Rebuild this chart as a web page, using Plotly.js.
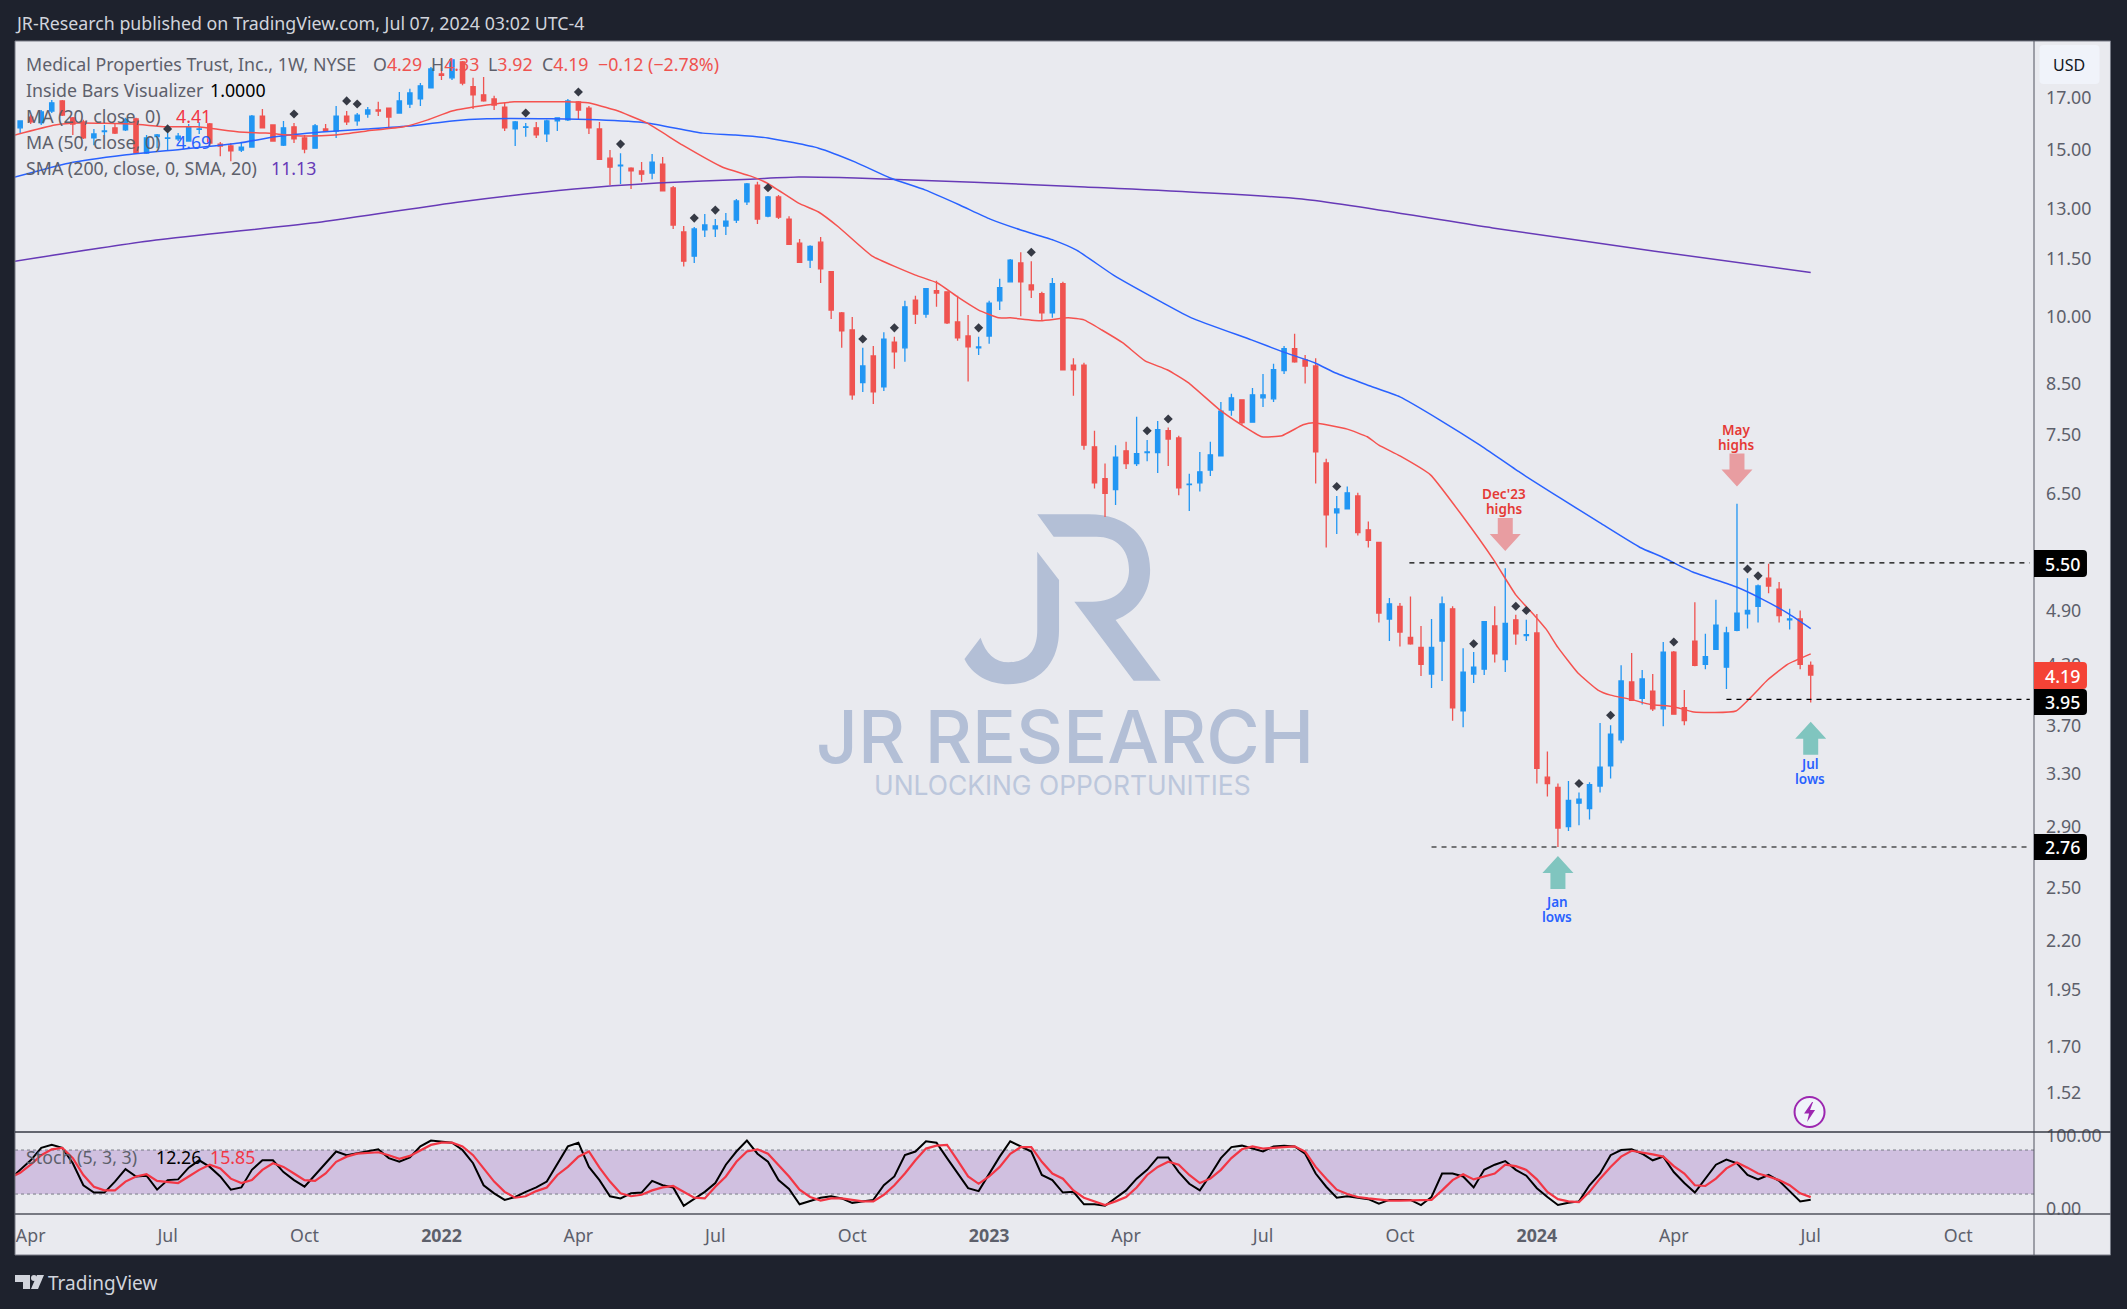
<!DOCTYPE html>
<html>
<head>
<meta charset="utf-8">
<script src="https://cdn.plot.ly/plotly-3.0.1.min.js"></script>
<style>
  html, body { margin: 0; padding: 0; background: #1e222d; }
</style>
</head>
<body>
<div id="chart"></div>
<script>
// weekly bars, first bar is the week of Mar 29 2021, last one Jul 1 2024
const opens = [
  15.81,16.23,16.00,16.47,16.88,16.20,16.04,15.43,15.67,15.81,
  15.73,16.16,14.87,15.48,15.41,15.39,15.31,15.75,15.96,15.20,
  15.13,14.98,15.09,16.27,15.92,15.16,15.85,15.43,15.05,15.77,
  15.69,16.27,16.08,16.35,16.51,16.59,16.39,16.75,16.96,17.42,
  18.02,17.85,18.56,17.47,17.13,16.96,16.63,15.77,15.83,15.81,
  15.58,16.08,16.12,16.84,16.59,15.77,14.69,14.42,14.34,14.24,
  14.17,14.48,13.67,12.28,11.58,12.34,12.37,12.46,12.64,13.21,
  13.76,12.76,13.37,12.67,11.95,11.47,11.98,11.15,10.09,9.68,
  8.52,9.09,8.43,9.40,9.27,10.41,10.06,10.65,10.62,9.87,
  9.54,9.27,9.54,10.39,10.88,11.39,10.80,10.57,10.09,10.83,
  8.89,8.89,7.29,6.75,6.57,7.22,7.00,7.19,7.19,7.58,
  7.45,6.65,6.68,6.89,7.13,7.97,8.17,7.74,8.21,8.19,
  8.77,9.25,9.00,8.87,7.01,6.21,6.27,6.47,5.96,5.78,
  4.80,4.95,4.59,4.48,4.20,4.55,4.92,3.84,4.20,4.25,
  4.72,4.35,4.79,4.61,4.64,3.27,3.19,2.90,3.07,3.03,
  3.20,3.36,3.58,4.12,3.96,4.03,3.86,4.43,3.87,4.55,
  4.30,4.46,4.27,4.67,4.86,4.95,5.30,5.16,4.79,4.80,4.29
];
const highs = [
  16.08,16.31,16.51,16.92,16.92,16.23,16.12,15.77,15.92,16.00,
  16.20,16.20,15.54,15.58,15.61,15.61,15.96,16.04,16.00,15.28,
  15.24,15.24,16.31,16.55,15.92,16.08,16.00,15.54,15.96,15.96,
  16.67,16.47,16.39,16.63,16.84,16.59,17.25,17.38,17.63,18.33,
  18.29,18.70,18.60,17.85,17.89,17.09,16.80,16.08,16.00,16.04,
  16.12,16.20,16.96,16.88,16.67,16.04,14.98,14.87,14.37,14.55,
  14.84,14.73,13.73,12.46,12.43,12.83,12.67,12.86,13.30,13.83,
  13.87,13.40,13.43,12.76,12.07,11.89,12.13,11.15,10.11,9.99,
  9.27,9.31,9.63,9.52,10.39,10.52,10.70,10.91,10.62,10.52,
  10.04,9.52,10.39,10.96,11.50,11.69,11.44,10.62,10.98,10.88,
  9.04,8.94,7.58,7.00,7.32,7.38,7.84,7.41,7.76,7.64,
  7.49,6.83,7.20,7.38,8.13,8.29,8.17,8.41,8.70,8.92,
  9.31,9.59,9.11,9.04,7.08,6.47,6.62,6.52,6.08,5.78,
  5.05,4.99,5.07,4.72,4.80,5.07,4.95,4.47,4.43,4.77,
  4.95,5.43,4.85,4.79,4.86,3.48,3.22,3.24,3.15,3.23,
  3.73,3.71,4.29,4.42,4.24,4.20,4.54,4.44,4.04,5.00,
  4.63,5.03,4.71,6.35,5.30,5.22,5.49,5.25,4.92,4.90,4.33
];
const lows = [
  15.61,15.96,15.92,16.39,16.27,15.54,15.39,15.16,15.54,15.58,
  15.69,14.84,14.84,15.05,14.98,15.31,15.29,15.58,15.09,14.76,
  14.58,14.91,15.07,15.79,15.29,15.13,15.24,14.87,15.04,15.65,
  15.43,15.92,15.89,16.20,16.27,15.81,16.37,16.59,16.67,17.40,
  17.76,17.76,17.53,16.55,16.84,16.51,15.69,15.13,15.47,15.43,
  15.28,15.69,16.08,16.12,15.58,14.64,13.76,13.80,13.63,13.87,
  13.96,13.55,12.37,11.29,11.39,12.13,12.13,12.19,12.55,13.11,
  12.52,12.73,12.67,11.91,11.40,11.25,10.85,9.94,9.27,8.17,
  8.33,8.09,8.35,8.81,8.96,9.82,9.97,10.24,9.82,9.43,
  8.54,9.11,9.36,10.16,10.86,10.01,10.46,9.90,9.97,8.78,
  8.25,7.24,6.59,6.15,6.33,6.91,6.96,7.04,6.84,6.96,
  6.48,6.24,6.54,6.79,7.12,7.86,7.69,7.73,8.03,8.13,
  8.70,8.94,8.50,6.67,5.71,5.90,6.26,5.88,5.71,4.76,
  4.55,4.49,4.51,4.18,4.06,4.13,3.75,3.69,4.11,4.19,
  4.32,4.22,4.51,4.55,3.22,3.12,2.76,2.87,2.91,2.95,
  3.15,3.26,3.55,3.94,3.90,3.84,3.70,3.81,3.71,4.28,
  4.25,4.46,4.05,4.66,4.69,4.76,5.11,4.76,4.68,4.25,3.92
];
const closes = [
  16.08,16.04,16.43,16.80,16.31,15.96,15.43,15.58,15.69,15.61,
  16.14,14.87,15.43,15.54,15.43,15.50,15.83,15.77,15.24,15.13,
  14.95,15.09,16.27,15.81,15.31,15.81,15.39,15.02,15.89,15.69,
  16.27,16.04,16.31,16.51,16.47,16.23,16.88,17.21,17.51,18.24,
  17.96,18.65,17.63,17.13,16.88,16.71,15.81,16.04,15.85,15.54,
  16.08,16.20,16.88,16.51,15.81,14.65,14.37,14.44,14.24,14.13,
  14.55,13.57,12.49,11.44,12.37,12.49,12.46,12.61,13.24,13.80,
  12.67,13.37,12.73,11.92,11.41,11.86,11.23,10.16,9.66,8.27,
  8.87,8.33,9.47,9.18,10.24,10.06,10.70,10.59,9.85,9.50,
  9.29,9.29,10.33,10.73,11.47,10.88,10.67,10.09,10.83,8.79,
  8.79,7.32,6.68,6.51,7.11,7.00,7.17,7.20,7.60,7.43,
  6.60,6.66,6.86,7.15,7.95,8.21,7.73,8.27,8.27,8.79,
  9.25,8.96,8.87,7.20,6.18,6.27,6.52,5.92,5.81,4.87,
  4.98,4.65,4.52,4.30,4.48,4.98,3.87,4.22,4.27,4.77,
  4.41,4.75,4.63,4.62,3.34,3.22,2.89,3.09,3.10,3.21,
  3.35,3.63,4.13,3.94,4.15,3.86,4.43,3.81,3.75,4.29,
  4.38,4.73,4.64,4.87,4.90,5.20,5.20,4.84,4.80,4.30,4.19
];

// moving averages, read at a number of weeks along each line
const ma20Weeks = [-0.5,3.3,5.5,10.7,13.8,16.8,20.8,23.3,26.9,29.9,32.9,36.4,38.7,41,44.3,46.9,51.7,53.9,56.5,59.5,62.9,66.7,69.3,70.9,73.9,75.8,77.7,80.9,85,87.1,89,91,92.9,94,96.9,99.5,101,102.7,104.7,106.8,108.9,110.9,113.8,115.8,117.9,119.8,121.8,122.8,126,127.9,129,131,133.9,136.9,139.9,142,144,144.9,146,147.9,149.8,151,152.9,154.8,157,158.9,162.9,165.9,167.8,170];
const ma20 = [15.54,15.92,16.00,15.96,15.85,15.85,15.65,15.61,15.50,15.54,15.69,15.85,16.12,16.47,16.71,16.84,16.84,16.80,16.51,16.00,15.16,14.37,14.07,13.83,13.17,12.89,12.43,11.58,11.06,10.85,10.49,10.16,9.97,9.97,9.90,9.97,9.92,9.68,9.38,8.98,8.79,8.52,7.99,7.71,7.47,7.49,7.69,7.73,7.61,7.47,7.32,7.13,6.81,6.17,5.54,5.09,4.81,4.68,4.48,4.21,4.04,3.99,3.95,3.90,3.88,3.83,3.84,4.14,4.30,4.41];
const ma50Weeks = [-0.5,4.6,9.9,15.6,20.8,24.2,28.6,32.9,37.3,41,44.3,50.4,54.8,59.5,64.8,67.9,71,75.8,79.3,82.6,85.9,89.2,92.1,95,98.1,100.3,103.8,108.5,111.2,116.9,119.9,122.9,124.9,127.9,131,134.8,138.6,142.4,146.2,150,153.8,155.9,158.8,162.9,165.2,167.8,170];
const ma50 = [14.03,14.51,14.80,15.02,15.24,15.47,15.65,15.77,15.89,16.08,16.16,16.16,16.12,16.00,15.61,15.54,15.43,15.05,14.55,14.00,13.60,13.11,12.67,12.34,12.04,11.75,11.06,10.34,9.97,9.45,9.18,8.94,8.72,8.47,8.23,7.78,7.32,6.85,6.44,6.06,5.71,5.58,5.38,5.19,5.05,4.87,4.69];
const sma200Weeks = [-0.5,12.9,28.6,41.7,52.6,60.5,69.3,73.9,79.3,101.1,121.7,139.8,155.2,170];
const sma200 = [11.44,12.04,12.58,13.21,13.63,13.83,13.96,14.03,14.00,13.70,13.30,12.40,11.72,11.13];

// inside bar markers
const insideWeeks = [14,26,31,32,48,53,57,64,66,71,80,83,91,96,107,109,125,138,142,143,148,151,157,164,165];
const insidePrices = [15.77,16.35,16.88,16.75,16.39,17.25,15.20,12.70,12.95,13.67,9.47,9.73,9.73,11.69,7.58,7.80,6.62,4.52,4.95,4.90,3.22,3.80,4.54,5.42,5.33];

// stochastic, weekly from one bar before the first visible bar
const stochK = [40,
  53,66,83,87,83,62,32,22,22,37,
  54,44,45,26,39,40,56,66,57,44,
  26,29,53,66,66,50,39,30,46,62,
  78,73,76,78,81,69,64,70,85,93,
  91,90,80,62,32,21,12,16,23,29,
  37,62,85,90,57,39,17,14,21,22,
  38,32,29,4,14,23,35,60,78,93,
  75,64,39,27,6,10,15,17,14,8,
  10,12,32,44,73,78,92,90,69,48,
  28,24,48,71,92,85,78,46,39,22,
  23,6,6,4,14,25,41,53,70,70,
  50,34,25,46,69,84,86,82,78,85,
  86,85,75,48,30,15,17,15,13,7,
  12,12,12,5,16,48,48,44,29,53,
  60,65,53,45,28,16,5,8,10,32,
  48,73,80,81,75,66,71,50,35,22,
  41,60,67,62,46,40,46,38,24,10,12.26];
const stochD = [42,
  49,60,73,81,83,69,46,30,25,25,
  37,44,47,38,36,35,44,53,60,55,
  41,35,39,53,62,57,48,39,38,48,
  64,71,75,76,77,73,68,72,79,87,
  90,90,85,73,55,37,23,15,17,24,
  29,46,57,71,78,56,37,21,17,19,
  25,29,31,23,15,14,30,44,64,78,
  81,75,60,44,26,16,11,14,14,12,
  10,10,19,32,48,66,82,86,87,66,
  44,34,44,57,75,84,84,64,48,41,
  25,15,10,5,10,16,29,46,57,64,
  60,46,35,41,53,69,81,85,82,83,
  84,85,78,57,41,26,20,16,14,12,
  11,11,11,11,12,25,39,47,40,44,
  48,60,58,53,40,23,13,10,9,23,
  41,57,71,79,77,74,71,58,48,32,
  31,41,55,63,56,48,44,39,32,21,15.85];

const dashedPrices = [5.50, 3.95, 2.76];
const dashedStart = [131.9, 162, 134];

const priceTicks = [17,15,13,11.5,10,8.5,7.5,6.5,4.9,4.3,3.7,3.3,2.9,2.5,2.2,1.95,1.7,1.52];
const timeTickWeeks = [1,14,27,40,53,66,79,92,105,118,131,144,157,170,184];
const timeTickLabels = ["Apr","Jul","Oct","<b>2022</b>","Apr","Jul","Oct","<b>2023</b>","Apr","Jul","Oct","<b>2024</b>","Apr","Jul","Oct"];

const W = 2127, H = 1309;
const left = 15, right = 2034.5, top_ = 41, paneLine = 1132, bottom = 1214, panelBottom = 1255, panelRight = 2111;
const FONT = '"Noto Sans", sans-serif';
const LOGO_FONT = '"Inter", sans-serif';
const TXT = "#5d606b";
const BG = "#e9eaef";
const TEXT_SIZE = 17.8;

// page pixels to paper fractions, used for everything that is not data
const xp = (x) => (x - left) / (right - left);
const yp = (y) => (bottom - y) / (bottom - top_);
const toPaper = (s) => s.replace(/(-?[\d.]+) (-?[\d.]+)/g, (m, x, y) => xp(+x) + " " + yp(+y));

const shapes = [];
const annotations = [];

const text = (x, y, str, opts = {}) => {
  const anchor = opts.anchor || "left";
  annotations.push({
    xref: "paper", yref: "paper", x: xp(anchor === "left" ? x - 2.5 : x), y: yp(y),
    xanchor: anchor, yanchor: "middle",
    text: str, showarrow: false, align: opts.align || "left",
    font: { family: opts.family || FONT, size: opts.size || TEXT_SIZE, color: opts.color || TXT, weight: opts.weight || 400 },
  });
};
const line = (x0, y0, x1, y1, color, width = 1) => {
  shapes.push({
    type: "line", xref: "paper", yref: "paper", layer: "above",
    x0: xp(x0), y0: yp(y0), x1: xp(x1), y1: yp(y1), line: { color: color, width: width },
  });
};
const pathShape = (d, fill, layer = "above") => {
  shapes.push({ type: "path", xref: "paper", yref: "paper", layer: layer, path: toPaper(d), fillcolor: fill, line: { width: 0 } });
};

// panel
shapes.push({
  type: "rect", xref: "paper", yref: "paper", layer: "below",
  x0: xp(left), x1: xp(panelRight), y0: yp(top_), y1: yp(panelBottom), fillcolor: BG, line: { width: 0 },
});
line(left, top_, panelRight, top_, "#787b86");
line(left, top_, left, panelBottom, "#787b86");
line(panelRight, top_, panelRight, panelBottom, "#787b86");
line(left, panelBottom, panelRight, panelBottom, "#787b86");
line(right, top_, right, panelBottom, "#50535e");
line(left, paneLine, panelRight, paneLine, "#363a45", 1.5);
line(left, bottom, panelRight, bottom, "#50535e", 1.5);

// stochastic band
shapes.push({ type: "rect", xref: "paper", yref: "y2", layer: "below", x0: 0, x1: 1, y0: 20, y1: 80, fillcolor: "#d0c0e0", line: { width: 0 } });
[20, 80].forEach((v) => {
  shapes.push({ type: "line", xref: "paper", yref: "y2", layer: "below", x0: 0, x1: 1, y0: v, y1: v, line: { color: "#787b86", width: 1, dash: "3px,3px" } });
});

// watermark
const WM = "#b3bfd6";
pathShape("M 1037.5 514.3 L 1089.1 514.3 C 1127.4 514.3 1150.4 536.7 1150.4 570 C 1150.4 593.3 1137 611.7 1115.9 620 L 1161 680.7 L 1133.9 680.7 L 1074.6 601.7 L 1093 601.7 C 1115.9 601.7 1129.3 588.3 1129.3 570 C 1129.3 548.3 1115.9 536.7 1096.8 536.7 L 1053.9 536.7 Z", WM, "below");
pathShape("M 1037.5 551.7 L 1059.3 580 L 1059.3 630 C 1059.3 663.3 1039.4 684.3 1008.8 684.3 C 989.6 684.3 972.4 675 964.7 659 L 980.8 637.7 C 985.8 653.3 995.4 662.3 1008.8 662.3 C 1027.9 662.3 1037.5 650 1037.5 630 Z", WM, "below");
text(1065, 736, "JR RESEARCH", { anchor: "center", size: 73, color: WM, family: LOGO_FONT, weight: 500 });
text(1063, 785, "UNLOCKING OPPORTUNITIES", { anchor: "center", size: 26.4, color: "#bcc7dc", family: LOGO_FONT, weight: 400 });

// arrows, tip sits on the anchor
const arrow = (week, price, dir, color) => {
  const s = dir; // 1 = points up, -1 = points down
  shapes.push({
    type: "path", layer: "above", xref: "x", yref: "y", xsizemode: "pixel", ysizemode: "pixel",
    xanchor: week, yanchor: price,
    path: `M0,0 L15.5,${-17 * s} L7.5,${-17 * s} L7.5,${-33 * s} L-7.5,${-33 * s} L-7.5,${-17 * s} L-15.5,${-17 * s} Z`,
    fillcolor: color, line: { width: 0 },
  });
};
arrow(163, 6.62, -1, "#e89da1");
arrow(141, 5.66, -1, "#e89da1");
arrow(146, 2.70, 1, "#80c5bf");
arrow(170, 3.74, 1, "#80c5bf");
const RED_NOTE = "#e53935", BLUE_NOTE = "#2962ff";
const note = (x, y, str, color) => text(x, y, str, { anchor: "center", align: "center", size: 13.5, color: color, weight: 600 });
note(1736, 430, "May", RED_NOTE);
note(1736, 445, "highs", RED_NOTE);
note(1504, 494, "Dec'23", RED_NOTE);
note(1504, 509, "highs", RED_NOTE);
note(1557, 902, "Jan", BLUE_NOTE);
note(1557, 917, "lows", BLUE_NOTE);
note(1810, 764, "Jul", BLUE_NOTE);
note(1810, 779, "lows", BLUE_NOTE);

// legend
const RED = "#ef5350";
text(27, 64, "Medical Properties Trust, Inc., 1W, NYSE");
text(374, 64, `O<span style="color:${RED}">4.29</span>`);
text(432, 64, `H<span style="color:${RED}">4.33</span>`);
text(489, 64, `L<span style="color:${RED}">3.92</span>`);
text(543, 64, `C<span style="color:${RED}">4.19</span>`);
text(599, 64, "−0.12 (−2.78%)", { color: RED });
text(27, 90, "Inside Bars Visualizer");
text(211, 90, "1.0000", { color: "#000000" });
text(27, 116, "MA (20, close, 0)");
text(177, 116, "4.41", { color: "#f23645" });
text(27, 142, "MA (50, close, 0)");
text(177, 142, "4.69", { color: "#2962ff" });
text(27, 168, "SMA (200, close, 0, SMA, 20)");
text(272, 168, "11.13", { color: "#673ab7" });
text(27, 1157, "Stoch (5, 3, 3)");
text(157, 1157, "12.26", { color: "#000000" });
text(211, 1157, "15.85", { color: "#f23645" });

// header and footer
text(15, 23, "JR-Research published on TradingView.com, Jul 07, 2024 03:02 UTC-4", { color: "#d1d4dc" });
text(49, 1283, "TradingView", { color: "#d1d4dc", size: 19 });
pathShape("M 15 1275 L 30 1275 L 30 1289 L 23 1289 L 23 1282 L 15 1282 Z", "#d1d4dc");
pathShape("M 44 1275 L 38 1289 L 31 1289 L 37 1275 Z", "#d1d4dc");
shapes.push({ type: "circle", xref: "paper", yref: "paper", layer: "above", x0: xp(31), x1: xp(37), y0: yp(1275), y1: yp(1281), fillcolor: "#d1d4dc", line: { width: 0 } });

// USD box
pathShape("M 2044 45 L 2096 45 Q 2100 45 2100 49 L 2100 80 Q 2100 84 2096 84 L 2044 84 Q 2040 84 2040 80 L 2040 49 Q 2040 45 2044 45 Z", "#f0f3fa");
text(2070, 65, "USD", { anchor: "center", color: "#131722", size: 16 });

// lightning badge
shapes.push({
  type: "circle", xref: "paper", yref: "paper", layer: "above",
  x0: xp(1795), x1: xp(1825), y0: yp(1097), y1: yp(1127), fillcolor: "#f0f3fa", line: { color: "#9c27b0", width: 2 },
});
pathShape("M 1812.5 1102 L 1804.5 1113.5 L 1809.5 1113.5 L 1807.5 1122 L 1815.5 1110 L 1810.5 1110 L 1813.5 1102 Z", "#9c27b0");

// price tags on the right axis
const tag = (price, y0, y1, color) => {
  pathShape(`M ${right} ${y0} L ${right + 49} ${y0} Q ${right + 53} ${y0} ${right + 53} ${y0 + 4} L ${right + 53} ${y1 - 4} Q ${right + 53} ${y1} ${right + 49} ${y1} L ${right} ${y1} Z`, color);
  text(right + 29, (y0 + y1) / 2, price, { anchor: "center", color: "#ffffff", size: 17.8, weight: 500 });
};
tag("5.50", 550, 577, "#000000");
tag("4.19", 662, 689, "#f44336");
tag("3.95", 689, 715, "#000000");
tag("2.76", 834, 860, "#000000");

const weeks = opens.map((_, i) => i);
const stochWeeks = stochK.map((_, i) => i - 1);

const data = [
  {
    type: "scatter", mode: "lines", x: sma200Weeks, y: sma200, xaxis: "x", yaxis: "y",
    line: { color: "#673ab7", width: 1.5, shape: "spline", smoothing: 0.6 }, hoverinfo: "skip",
  },
  {
    type: "scatter", mode: "lines", x: ma50Weeks, y: ma50, xaxis: "x", yaxis: "y",
    line: { color: "#2962ff", width: 1.5, shape: "spline", smoothing: 0.5 }, hoverinfo: "skip",
  },
  {
    type: "candlestick", x: weeks, open: opens, high: highs, low: lows, close: closes, xaxis: "x", yaxis: "y",
    increasing: { line: { color: "#2196f3", width: 1.3 }, fillcolor: "#2196f3" },
    decreasing: { line: { color: "#ef5350", width: 1.3 }, fillcolor: "#ef5350" },
    whiskerwidth: 0, hoverinfo: "skip",
  },
  {
    type: "scatter", mode: "lines", x: ma20Weeks, y: ma20, xaxis: "x", yaxis: "y",
    line: { color: "#f5524f", width: 1.5, shape: "spline", smoothing: 0.4 }, hoverinfo: "skip",
  },
  {
    type: "scatter", mode: "markers", x: insideWeeks, y: insidePrices, xaxis: "x", yaxis: "y",
    marker: { symbol: "diamond", size: 7, color: "#363a45" }, hoverinfo: "skip",
  },
];

dashedPrices.forEach((p, i) => {
  data.push({
    type: "scatter", mode: "lines", x: [dashedStart[i], 190.8], y: [p, p], xaxis: "x", yaxis: "y",
    line: { color: "#000000", width: 1.2, dash: "5px,5px" }, hoverinfo: "skip",
  });
});

data.push(
  {
    type: "scatter", mode: "lines", x: stochWeeks, y: stochK, xaxis: "x", yaxis: "y2",
    line: { color: "#000000", width: 2 }, hoverinfo: "skip",
  },
  {
    type: "scatter", mode: "lines", x: stochWeeks, y: stochD, xaxis: "x", yaxis: "y2",
    line: { color: "#f23645", width: 2.2 }, hoverinfo: "skip",
  }
);

const layout = {
  width: W, height: H,
  margin: { l: left, r: W - right, t: top_, b: H - bottom, pad: 0 },
  paper_bgcolor: "#1e222d", plot_bgcolor: BG,
  showlegend: false,
  font: { family: FONT, color: TXT, size: TEXT_SIZE },
  boxgap: 0.42,
  xaxis: {
    domain: [0, 1], anchor: "y2", range: [-0.49, 191.2], type: "linear",
    showgrid: false, zeroline: false, showline: false, ticks: "", ticklen: 0,
    tickmode: "array", tickvals: timeTickWeeks, ticktext: timeTickLabels,
    tickangle: 0, tickfont: { size: TEXT_SIZE, color: TXT, family: FONT }, ticklabelstandoff: 9,
    rangeslider: { visible: false },
  },
  yaxis: {
    domain: [(bottom - paneLine) / (bottom - top_), 1], type: "log", side: "right", anchor: "x",
    range: [0.1405, 1.2905], showgrid: false, zeroline: false, showline: false, ticks: "",
    tickmode: "array", tickvals: priceTicks, ticktext: priceTicks.map((v) => v.toFixed(2)),
    tickfont: { size: TEXT_SIZE, color: TXT, family: FONT }, ticklabelstandoff: 11,
  },
  yaxis2: {
    domain: [0, (bottom - paneLine) / (bottom - top_)], side: "right", anchor: "x",
    range: [-7.2, 104.6], showgrid: false, zeroline: false, showline: false, ticks: "",
    tickmode: "array", tickvals: [0, 100], ticktext: ["0.00", "100.00"],
    tickfont: { size: TEXT_SIZE, color: TXT, family: FONT }, ticklabelstandoff: 11,
  },
  shapes: shapes,
  annotations: annotations,
};

Plotly.newPlot("chart", data, layout, { staticPlot: true, responsive: false, displayModeBar: false });
</script>
</body>
</html>
